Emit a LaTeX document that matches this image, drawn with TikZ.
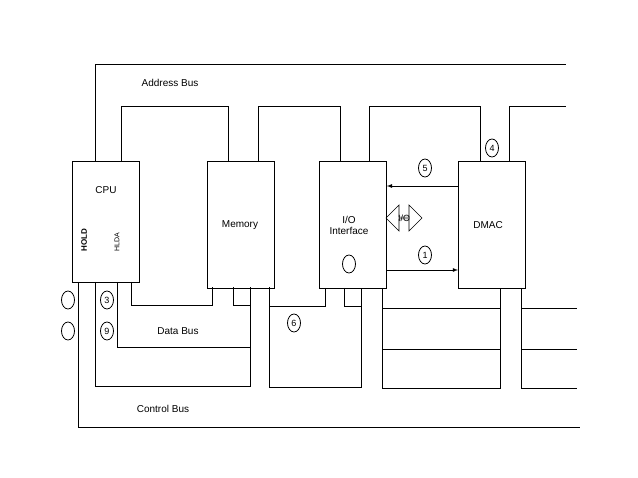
\documentclass[tikz,border=0pt]{standalone}
\usepackage{fontspec}
\setmainfont{Liberation Sans}
\usetikzlibrary{shapes.arrows,shapes.geometric}
\begin{document}
\begin{tikzpicture}[x=1pt,y=-1pt,line width=0.8pt,
  box/.style={draw,minimum width=67pt,minimum height=127pt,anchor=north west,inner sep=0},
  lbl/.style={font=\fontsize{10}{11}\selectfont},
  num/.style={draw,ellipse,minimum width=13pt,minimum height=18pt,inner sep=0,font=\fontsize{9}{9}\selectfont},
  ln/.style={line width=0.8pt}]
\useasboundingbox (0,0) rectangle (638,478);
\node[box,minimum height=121pt] (cpu) at (72,161) {};
\node[box] (mem) at (207,161) {};
\node[box] (io) at (319,161) {};
\node[box] (dmac) at (458,161) {};
\node[lbl] at (106,190) {CPU};
\node[rotate=90,font=\fontsize{8}{9}\selectfont\bfseries] at (84,240) {HOLD};
\node[rotate=90,font=\fontsize{7}{8}\selectfont] at (117,242) {HLDA};
\node[lbl] at (240,225) {Memory};
\node[lbl,align=center] at (349,225) {I/O\\Interface};
\node[lbl] at (488,225) {DMAC};
\node[lbl] at (170,83) {Address Bus};
\node[lbl] at (178,331) {Data Bus};
\node[lbl] at (163,409) {Control Bus};
% address bus
\draw[ln] (95,161) -- (95,64) -- (566,64);
\draw[ln] (121,161) -- (121,106) -- (228,106) -- (228,161);
\draw[ln] (258,161) -- (258,106) -- (340,106) -- (340,161);
\draw[ln] (369,161) -- (369,106) -- (480,106) -- (480,161);
\draw[ln] (509,161) -- (509,106) -- (566,106);
% control / data
\draw[ln] (78,282) -- (78,427) -- (580,427);
\draw[ln] (95,282) -- (95,386) -- (250,386) -- (250,287);
\draw[ln] (117,282) -- (117,347) -- (250,347);
\draw[ln] (131,282) -- (131,305) -- (212,305) -- (212,287);
\draw[ln] (233,287) -- (233,305) -- (250,305);
\draw[ln] (269,287) -- (269,387) -- (361,387) -- (361,288);
\draw[ln] (325,288) -- (325,306) -- (269,306);
\draw[ln] (344,288) -- (344,306) -- (361,306);
\draw[ln] (382,288) -- (382,388) -- (500,388) -- (500,288);
\draw[ln] (382,308) -- (500,308);
\draw[ln] (382,349) -- (500,349);
\draw[ln] (521,288) -- (521,388) -- (577,388);
\draw[ln] (521,308) -- (577,308);
\draw[ln] (521,349) -- (577,349);
% arrows
\draw[ln,-latex] (dmac.west |- 0,186) -- (io.east |- 0,186);
\draw[ln,-latex] (io.east |- 0,270) -- (dmac.west |- 0,270);
\node[draw,double arrow,double arrow head extend=4pt,minimum width=26pt,minimum height=36pt,inner sep=0,line width=0.6pt] (dar) at (404,218) {};
\node[font=\fontsize{9}{9}\selectfont] at (404,218) {I/O};
% numbered circles
\node[num] (c2) at (68,300) {};
\node[num] (c1) at (68,331) {};
\node[num] (c3) at (107,300) {3};
\node[num] (c9) at (107,331) {9};
\node[num] (c6) at (294,323) {6};
\node[num] (c7) at (349,264) {};
\node[num] (c5) at (425,168) {5};
\node[num] (c1b) at (425,255) {1};
\node[num] (c4) at (492,148) {4};
\end{tikzpicture}
\end{document}
